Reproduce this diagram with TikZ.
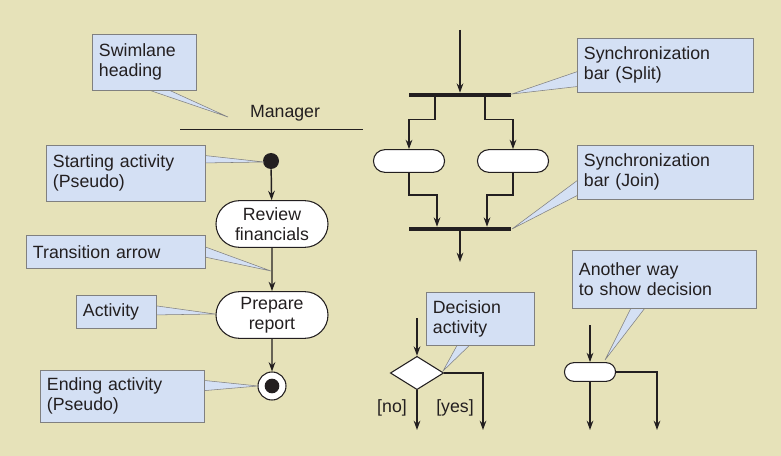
\documentclass[tikz,border=0pt]{standalone}
\usepackage{fontspec}
\setmainfont{Liberation Sans}
\usetikzlibrary{shapes.misc,shapes.geometric,arrows.meta}
\definecolor{bgkhaki}{RGB}{230,226,185}
\definecolor{calloutblue}{RGB}{212,224,244}
\definecolor{inkdark}{RGB}{35,31,32}
\begin{document}
\begin{tikzpicture}[
x=0.75pt, y=-0.75pt,
>={Stealth[length=7pt,width=5pt]},
font=\fontsize{13.3}{15}\selectfont,
arrow/.style={draw=inkdark,line width=1.1pt,->},
line/.style={draw=inkdark,line width=1.1pt},
callout/.style={draw=gray,fill=calloutblue,align=left,anchor=north west,inner xsep=5pt,inner ysep=2pt,text=inkdark},
pointer/.style={draw=gray,fill=calloutblue},
activity/.style={rounded rectangle,draw=inkdark,fill=white,line width=0.8pt,align=center,minimum width=86pt,minimum height=35pt,inner sep=1pt,text=inkdark},
oval/.style={rounded rectangle,draw=inkdark,fill=white,line width=0.8pt,minimum width=60pt,minimum height=17pt},
bar/.style={fill=inkdark,minimum width=76pt,minimum height=3pt,inner sep=0pt}
]
\fill[bgkhaki] (0,0) rectangle (781,456);

% left swimlane
\node[text=inkdark] (manager) at (285,113) {Manager};
\coordinate (laneL) at (180,129);
\coordinate (laneR) at (363,129);
\draw[line width=0.6pt,inkdark] (laneL) -- (laneR);

\node[circle,fill=inkdark,minimum size=12pt,inner sep=0pt] (start) at (271,161) {};
\node[activity] (review) at (272,224) {Review\\financials};
\node[activity] (prepare) at (272,315) {Prepare\\report};
\node[circle,draw=inkdark,fill=white,line width=0.8pt,minimum size=21pt,inner sep=0pt] (stop) at (272,386) {};
\node[circle,fill=inkdark,minimum size=11pt,inner sep=0pt] at (stop) {};

\path[arrow] (start) -- (review);
\path[arrow] (review) -- (prepare);
\path[arrow] (prepare) -- (stop);

% split and join
\coordinate (in1) at (460,30);
\node[bar] (split) at (460,95) {};
\node[oval] (ovL) at (409,161) {};
\node[oval] (ovR) at (513,161) {};
\node[bar] (join) at (460,229) {};
\coordinate (out1) at (460,262);

\path[arrow] (in1) -- (split.north);
\path[arrow] ([xshift=-25*0.75pt]split.south) -- ++(0,22) -| (ovL.north);
\path[arrow] ([xshift=25*0.75pt]split.south) -- ++(0,22) -| (ovR.north);
\path[arrow] (ovL.south) -- ++(0,22) -| ([xshift=-23*0.75pt]join.north);
\path[arrow] (ovR.south) -- ++(0,22) -| ([xshift=27*0.75pt]join.north);
\path[arrow] (join.south) -- (out1);

% decision
\node[diamond,draw=inkdark,fill=white,line width=0.8pt,minimum width=40pt,minimum height=25pt,inner sep=0pt,aspect=1.6] (decide) at (417,373) {};
\coordinate (in2) at (417,318);
\coordinate (no) at (417,430);
\coordinate (yes) at (483,430);
\path[arrow] (in2) -- (decide.north);
\path[arrow] (decide.south) -- (no);
\path[arrow] (decide.east) -| (yes);
\node[text=inkdark] at (392,408) {[no]};
\node[text=inkdark] at (455,408) {[yes]};

% other decision
\node[oval,minimum width=45pt,minimum height=14pt] (ovD) at (590,372) {};
\coordinate (in3) at (590,325);
\coordinate (outA) at (590,430);
\coordinate (outB) at (657,430);
\path[arrow] (in3) -- (ovD.north);
\path[arrow] (ovD.south) -- (outA);
\path[arrow] (ovD.east) -| (outB);

% callouts
\draw[pointer] (137,86) -- (228,117) -- (160,86);
\draw[pointer] (200,155) -- (264,162) -- (200,163);
\draw[pointer] (200,245) -- (271,271) -- (200,256);
\draw[pointer] (150,305) -- (215,314) -- (150,315);
\draw[pointer] (200,380) -- (258,386) -- (200,391);
\draw[pointer] (582,70) -- (512,94) -- (582,86);
\draw[pointer] (582,177) -- (512,229) -- (582,193);
\draw[pointer] (460,340) -- (443,371) -- (475,340);
\draw[pointer] (633,304) -- (605,360) -- (648,304);

\node[callout,text width=68pt,minimum height=42pt] (swimNote) at (92,34) {Swimlane\\heading};
\node[callout,text width=109pt,minimum height=42pt] (startNote) at (46,145) {Starting activity\\(Pseudo)};
\node[callout,text width=124pt,minimum height=24.75pt] (transNote) at (26,235) {Transition arrow};
\node[callout,text width=50pt,minimum height=24.75pt] (actNote) at (76,295) {Activity};
\node[callout,text width=113pt,minimum height=39pt] (endNote) at (40,370) {Ending activity\\(Pseudo)};
\node[callout,text width=122pt,minimum height=40.5pt] (splitNote) at (577,38) {Synchronization\\bar (Split)};
\node[callout,text width=122pt,minimum height=40.5pt] (joinNote) at (577,145) {Synchronization\\bar (Join)};
\node[callout,text width=71pt,minimum height=39.75pt] (decNote) at (426,292) {Decision\\activity};
\node[callout,text width=128pt,minimum height=43.5pt] (otherNote) at (572,250) {Another way\\to show decision};
\end{tikzpicture}
\end{document}
